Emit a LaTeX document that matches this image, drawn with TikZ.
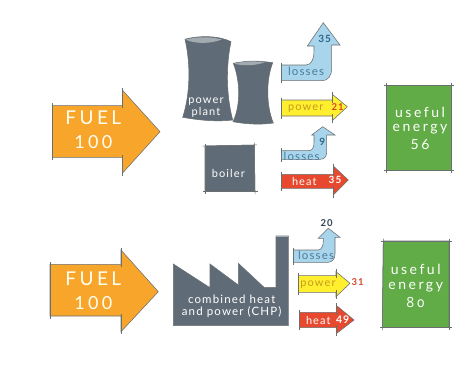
\documentclass[tikz,border=0pt]{standalone}
\usepackage{fontspec}
\usetikzlibrary{calc}
\setmainfont{Lato}
\newfontfamily\spaced[LetterSpace=18]{Lato}
\newfontfamily\tracked[LetterSpace=10]{Lato}
\newfontfamily\spacedold[LetterSpace=18,Numbers=OldStyle]{Open Sans}
\definecolor{fuelorange}{HTML}{F8A62B}
\definecolor{usegreen}{HTML}{62AC48}
\definecolor{slategrey}{HTML}{5F6B76}
\definecolor{lensgrey}{HTML}{A3ABB1}
\definecolor{skyblue}{HTML}{A8D5EC}
\definecolor{brightyellow}{HTML}{FFEF2E}
\definecolor{hotred}{HTML}{E8482E}
\definecolor{inkline}{HTML}{6A6F70}
\definecolor{deepblue}{HTML}{2F6585}
\definecolor{lossblue}{HTML}{4A7C9A}
\definecolor{gold}{HTML}{C79A20}
\definecolor{numred}{HTML}{D8452A}
\definecolor{navy}{HTML}{2E4252}
\tikzset{
  outline/.style={draw=inkline,line width=.55pt,line join=miter},
  corner/.style={draw=inkline,line width=.5pt,shorten <=-2.5pt,shorten >=-2.5pt},
  biglabel/.style={font=\spaced\fontsize{#1}{#1}\selectfont,inner sep=0pt,anchor=center},
  label/.style={font=\tracked\fontsize{#1}{#1}\selectfont,inner sep=0pt,anchor=center},
  boldnum/.style={font=\tracked\bfseries\fontsize{#1}{#1}\selectfont,inner sep=0pt,anchor=center}
}
% straight block arrow: tail x, tail top, tail bottom, head x, head top, head bottom, tip x, tip y
\newcommand{\blockarrow}[9]{%
  \path[outline,fill=#9] (#1,#2) -- (#4,#2) -- (#4,#5) -- (#7,#8) -- (#4,#6) -- (#4,#3) -- (#1,#3) -- cycle;
  \draw[corner] (#1,#2) -- (#1,#3);
  \draw[corner] (#4,#5) -- (#4,#2);
  \draw[corner] (#4,#6) -- (#4,#3);
}
\begin{document}
\begin{tikzpicture}[x=1pt,y=-1pt]
\useasboundingbox (0,0) rectangle (474,378);

% fuel arrows
\blockarrow{52.3}{105.7}{157.3}{122.3}{90}{173.3}{160}{131.7}{fuelorange}
\blockarrow{50}{264.3}{316}{121}{250}{331.7}{158.3}{291.7}{fuelorange}
\node[biglabel=19,text=white!95!yellow] (fuelA) at (93.3,117.3) {FUEL};
\node[biglabel=18,text=white!95!yellow] (amountA) at (93.3,141.7) {100};
\node[biglabel=19,text=white!95!yellow] (fuelB) at (93.3,278.3) {FUEL};
\node[biglabel=18,text=white!95!yellow] (amountB) at (93.3,303.3) {100};

% cooling towers
\path[outline,fill=slategrey] (233.3,63.3)
  .. controls (250,60) and (260,61) .. (272.7,62.7)
  .. controls (266,80) and (266,105) .. (273.3,123)
  .. controls (260,125) and (245,124) .. (233,121.7)
  .. controls (241,105) and (240,80) .. (233.3,63.3) -- cycle;
\path[outline,fill=slategrey] (185,39.3)
  .. controls (200,35) and (220,36) .. (231,41.7)
  .. controls (226,65) and (226,95) .. (232.7,120)
  .. controls (215,122) and (198,120) .. (182.7,117.3)
  .. controls (190,95) and (191,65) .. (185,39.3) -- cycle;
\fill[lensgrey] (185.5,39.6) .. controls (200,36) and (212,37) .. (222,39.5)
  .. controls (210,44) and (195,44) .. (185.5,39.6) -- cycle;
\fill[lensgrey] (234,63.6) .. controls (245,61) and (255,61) .. (265,62.2)
  .. controls (255,66) and (242,66) .. (234,63.6) -- cycle;
\node[label=11,text=white] (towerA) at (206,101.7) {power};
\node[label=11,text=white] (towerB) at (206,112.7) {plant};

% boiler
\path[outline,fill=slategrey] (205,146) -- (254.3,145) -- (255,191.7) -- (205,191.7) -- cycle;
\draw[corner] (205,146) -- (254.3,145);
\draw[corner] (254.3,145) -- (255,191.7);
\draw[corner] (255,191.7) -- (205,191.7);
\draw[corner] (205,191.7) -- (205,146);
\node[label=11,text=white] (boilerlabel) at (228.3,173.3) {boiler};

% factory
\path[outline,fill=slategrey] (173.3,325.7) -- (173.3,264) -- (210,287.7) -- (210,264)
  -- (238.3,285) -- (238.3,263.3) -- (264,287.3) -- (276,287.3) -- (276,236) -- (288.3,236)
  -- (288.3,325.7) -- cycle;
\fill[lensgrey] (276.3,236) rectangle (288,237.2);
\node[label=11.5,text=white] (chpA) at (231.7,299.3) {combined heat};
\node[label=11.5,text=white] (chpB) at (231.7,311.7) {and power (CHP)};

% upper losses, bending upward
\path[outline,fill=skyblue] (281.7,65) -- (306,65) .. controls (312,65) and (314,58) .. (314,50)
  -- (314,46) -- (307.3,46) -- (323.3,22.7) -- (340,45) -- (331.7,45) -- (331.7,68)
  .. controls (331.7,76) and (328,80.7) .. (322,80.7) -- (281.7,80.7) -- cycle;
\draw[corner] (281.7,65) -- (281.7,80.7);
\node[label=11.5,text=lossblue] (lossA) at (306,71) {losses};
\node[boldnum=10,text=deepblue] (lossAval) at (324.7,39) {35};

% upper power
\blockarrow{281.7}{100}{116}{332.3}{94.3}{120.7}{347.3}{106.7}{brightyellow}
\node[label=11,text=gold] (powerA) at (305.7,108.3) {power};
\node[boldnum=9.5,text=numred] (powerAval) at (337.7,106.7) {21};

% second losses
\path[outline,fill=skyblue] (281.7,150.7) -- (309,150.7) .. controls (313,150.7) and (314,146) .. (314,142)
  -- (314,135) -- (311.7,135) -- (322.7,126.7) -- (335,135) -- (326.7,135) -- (326.7,152)
  .. controls (326.7,157) and (324,159.3) .. (320,159.3) -- (281.7,159.3) -- cycle;
\draw[corner] (281.7,150.7) -- (281.7,159.3);
\node[label=11.5,text=lossblue] (lossB) at (301.7,156) {losses};
\node[boldnum=10,text=deepblue] (lossBval) at (322.3,141.7) {9};

% upper heat
\blockarrow{281.7}{174.3}{188.3}{333.3}{166}{195}{348.3}{180}{hotred}
\node[label=11,text=white] (heatA) at (304.3,181) {heat};
\node[boldnum=10,text=white] (heatAval) at (335,180) {35};

% lower losses
\path[outline,fill=skyblue] (293.3,250) -- (318,250) .. controls (322,250) and (323.3,245) .. (323.3,241)
  -- (323.3,238.3) -- (318.3,238.3) -- (328.3,228.3) -- (340,237.3) -- (335,237.3) -- (335,254)
  .. controls (335,259) and (332,262.3) .. (328,262.3) -- (293.3,262.3) -- cycle;
\draw[corner] (293.3,250) -- (293.3,262.3);
\node[label=11.5,text=lossblue] (lossC) at (316,255.7) {losses};
\node[boldnum=9.5,text=navy] (lossCval) at (326.7,222.7) {20};

% lower power
\blockarrow{298.3}{275.7}{292.3}{336}{271.7}{296.7}{350}{283.3}{brightyellow}
\node[label=11,text=gold] (powerC) at (318,284.3) {power};
\node[boldnum=9.5,text=numred] (powerCval) at (357.7,282.3) {31};

% lower heat
\blockarrow{299.3}{312.3}{327.7}{336.7}{305.7}{333.3}{354}{320}{hotred}
\node[label=11,text=white] (heatC) at (318.3,320) {heat};
\node[boldnum=10.5,text=white] (heatCval) at (342.7,319.3) {49};

% useful energy panels
\path[outline,fill=usegreen] (386,85) -- (451,85) -- (451,170.7) -- (386,170.7) -- cycle;
\draw[corner] (386,85) -- (451,85);
\draw[corner] (451,85) -- (451,170.7);
\draw[corner] (451,170.7) -- (386,170.7);
\draw[corner] (386,170.7) -- (386,85);
\node[biglabel=14,text=white] (useA) at (420,112.3) {useful};
\node[biglabel=14,text=white] (useB) at (420,129.3) {energy};
\node[biglabel=14,text=white] (useC) at (420,145) {56};

\path[outline,fill=usegreen] (383.3,241) -- (449,241) -- (449,327.7) -- (382.3,327.7) -- cycle;
\draw[corner] (383.3,241) -- (449,241);
\draw[corner] (449,241) -- (449,327.7);
\draw[corner] (449,327.7) -- (382.3,327.7);
\draw[corner] (382.3,327.7) -- (383.3,241);
\node[biglabel=14,text=white] (useD) at (415.7,269.3) {useful};
\node[biglabel=14,text=white] (useE) at (415.7,286.7) {energy};
\node[font=\spacedold\fontsize{14}{14}\selectfont,inner sep=0pt,text=white] (useF) at (415.7,302.7) {80};
\end{tikzpicture}
\end{document}
